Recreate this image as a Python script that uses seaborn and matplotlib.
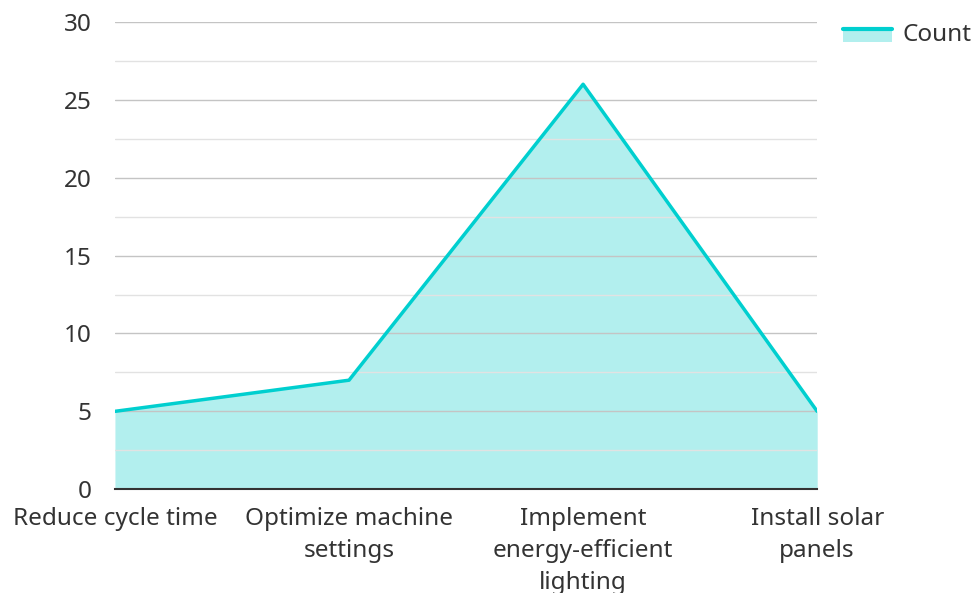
import matplotlib
matplotlib.use("Agg")
import matplotlib.pyplot as plt
import matplotlib.patches as mpatches
import matplotlib.lines as mlines
from matplotlib.legend_handler import HandlerBase
import numpy as np
import pandas as pd
import seaborn as sns

categories = [
    "Reduce cycle time",
    "Optimize machine\nsettings",
    "Implement\nenergy-efficient\nlighting",
    "Install solar\npanels",
]
counts = [5, 7, 26, 5]

LINE_COLOR = "#00cfcf"
FILL_COLOR = "#b2efee"
TEXT_COLOR = "#333333"
FONT_SIZE = 17.5


class AreaHandler(HandlerBase):
    """Legend key: filled box with the line along its top edge."""

    def create_artists(self, legend, orig_handle, xdescent, ydescent,
                       width, height, fontsize, trans):
        x0, y0 = -xdescent, -ydescent
        top = y0 + height * 0.7
        bottom = y0 + height * 0.1
        box = mpatches.Rectangle((x0, bottom), width, top - bottom,
                                 facecolor=FILL_COLOR, edgecolor="none", transform=trans)
        line = mlines.Line2D([x0, x0 + width], [top, top],
                             color=LINE_COLOR, linewidth=3, transform=trans)
        return [box, line]


sns.set_theme(style="white")
plt.rcParams["font.family"] = ["Noto Sans", "DejaVu Sans"]

df = pd.DataFrame({"pos": np.arange(len(categories)), "Count": counts})

fig = plt.figure(figsize=(9.74, 5.93), dpi=100)
ax = fig.add_axes([0.118, 0.175, 0.721, 0.788])

ax.fill_between(df["pos"], df["Count"], 0, color=FILL_COLOR, linewidth=0, zorder=1)
sns.lineplot(data=df, x="pos", y="Count", color=LINE_COLOR, linewidth=2.5, ax=ax, zorder=3)

ax.set_xlim(0, len(categories) - 1)
ax.set_ylim(0, 30)
ax.set_yticks(np.arange(0, 31, 5))
ax.set_yticks(np.arange(2.5, 30, 5), minor=True)
ax.set_xticks(df["pos"])
ax.set_xticklabels(categories, linespacing=1.45)
ax.tick_params(axis="x", length=0, pad=13, labelsize=FONT_SIZE, colors=TEXT_COLOR)
ax.tick_params(axis="y", which="both", length=0, pad=17, labelsize=FONT_SIZE, colors=TEXT_COLOR)

ax.grid(axis="y", which="major", color="#c4c4c4", linewidth=1, zorder=2)
ax.grid(axis="y", which="minor", color="#e2e2e2", linewidth=1, zorder=2)
ax.set_axisbelow(False)
for side in ["top", "right", "left"]:
    ax.spines[side].set_visible(False)
ax.spines["bottom"].set_color(TEXT_COLOR)
ax.spines["bottom"].set_linewidth(1.5)
ax.spines["bottom"].set_zorder(4)
ax.set_xlabel("")
ax.set_ylabel("")

handle = mpatches.Patch(facecolor=FILL_COLOR)
fig.legend(
    [handle], ["Count"], loc="upper left", bbox_to_anchor=(843 / 974, 1 - 22 / 593),
    frameon=False, fontsize=FONT_SIZE, borderpad=0, borderaxespad=0,
    handlelength=2.0, handleheight=1.0, handletextpad=0.45,
    labelcolor=TEXT_COLOR, handler_map={mpatches.Patch: AreaHandler()},
)

fig.savefig("out.png", dpi=100)
